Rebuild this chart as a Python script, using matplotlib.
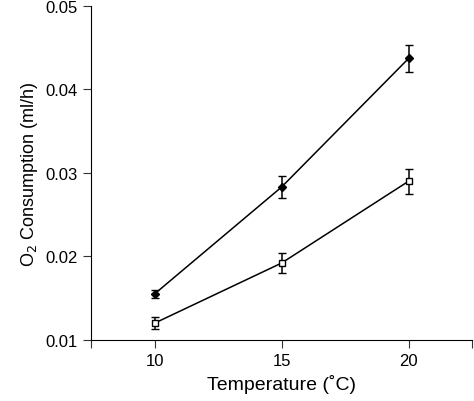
import matplotlib
matplotlib.use("Agg")
import matplotlib.pyplot as plt
plt.rcParams['font.family'] = ['Liberation Sans', 'DejaVu Sans']

temps = [10, 15, 20]
filled = [0.0155, 0.0283, 0.0437]
filled_err = [0.0005, 0.0013, 0.0016]
open_ = [0.0120, 0.0192, 0.0290]
open_err = [0.0007, 0.0012, 0.0015]

fig = plt.figure(figsize=(4.74, 4.02), dpi=100)
ax = fig.add_axes([0.192, 0.152, 0.804, 0.831])
ax.errorbar(temps, filled, yerr=filled_err, color='black', lw=1.1, marker='D', ms=4,
            mfc='black', capsize=3, elinewidth=1.1)
ax.errorbar(temps, open_, yerr=open_err, color='black', lw=1.1, marker='s', ms=5,
            mfc='white', capsize=3, elinewidth=1.1)
ax.set_xlim(7.5, 22.5)
ax.set_ylim(0.01, 0.05)
ax.set_xticks([7.5, 10, 15, 20, 22.5])
ax.set_xticklabels(['', '10', '15', '20', ''])
ax.set_yticks([0.01, 0.02, 0.03, 0.04, 0.05])
ax.set_yticklabels(['0.01', '0.02', '0.03', '0.04', '0.05'])
for s in ['top', 'right']:
    ax.spines[s].set_visible(False)
ax.tick_params(labelsize=12, direction='out', length=6, colors='#333333', labelcolor='black')
ax.set_xlabel('Temperature (˚C)', fontsize=14)
ax.set_ylabel('O$_2$ Consumption (ml/h)', fontsize=13)
fig.savefig('out.png', dpi=100)
